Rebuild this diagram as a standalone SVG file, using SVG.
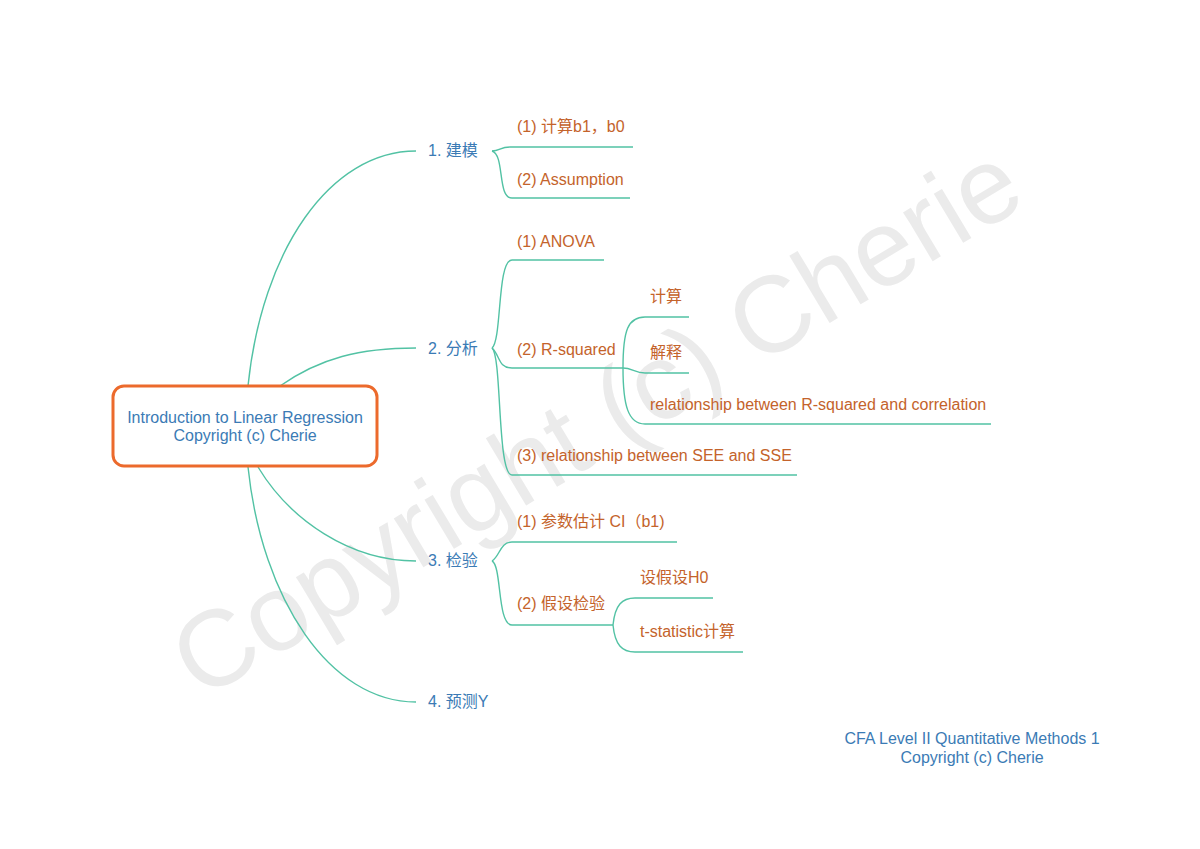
<svg xmlns="http://www.w3.org/2000/svg" width="1200" height="849" viewBox="0 0 1200 849">
<style>
text{font-family:"Liberation Sans","Noto Sans CJK SC",sans-serif;font-size:16px}
.b{fill:#3b7bb5}
.o{fill:#c4632b}
.wm{fill:#ebebeb;font-size:108px}
.c path{fill:none;stroke:#52c2a4;stroke-width:1.4}
</style>
<rect width="1200" height="849" fill="#fff"/>
<text class="wm" transform="translate(615,452) rotate(-31)" text-anchor="middle">Copyright (c) Cherie</text>
<g class="c" id="connectors">
<path d="M248,386 C262,250 330,151 416,151"/>
<path d="M280,386 C320,358 360,348 416,348"/>
<path d="M258,467 C290,520 350,561 416,561"/>
<path d="M248,467 C262,600 330,702 416,702"/>
<path d="M492,151 C500,151 500,147 510,147 H633"/>
<path d="M492,151 C505,155 497,198 512,198 H630"/>
<path d="M492,348 C502,340 497,260 512,260 H604"/>
<path d="M492,348 C500,355 498,368 512,368 H623"/>
<path d="M492,348 C502,356 497,475 512,475 H797"/>
<path d="M623,368 C623,330 628,317 645,317 H689"/>
<path d="M623,368 C632,368 635,373 645,373 H689"/>
<path d="M623,368 C623,405 628,424 645,424 H991"/>
<path d="M492,561 C500,556 500,542 512,542 H677"/>
<path d="M492,561 C502,566 497,625 512,625 H613"/>
<path d="M613,625 C615,605 622,598 635,598 H713"/>
<path d="M613,625 C615,645 622,652 635,652 H743"/>
</g>
<g id="root">
<rect x="113" y="386" width="264" height="80" rx="11" fill="#fff" stroke="#ec6a2c" stroke-width="3"/>
<text class="b" x="245" y="423" text-anchor="middle">Introduction to Linear Regression</text>
<text class="b" x="245" y="441" text-anchor="middle">Copyright (c) Cherie</text>
</g>
<g id="t1"><text class="b" x="428" y="156">1. 建模</text></g>
<g id="t1a"><text class="o" x="517" y="132">(1) 计算b1，b0</text></g>
<g id="t1b"><text class="o" x="517" y="185">(2) Assumption</text></g>
<g id="t2"><text class="b" x="428" y="354">2. 分析</text></g>
<g id="t2a"><text class="o" x="517" y="247">(1) ANOVA</text></g>
<g id="t2b"><text class="o" x="517" y="355">(2) R-squared</text></g>
<g id="t2b1"><text class="o" x="650" y="302">计算</text></g>
<g id="t2b2"><text class="o" x="650" y="358">解释</text></g>
<g id="t2b3"><text class="o" x="650" y="410">relationship between R-squared and correlation</text></g>
<g id="t2c"><text class="o" x="517" y="461">(3) relationship between SEE and SSE</text></g>
<g id="t3"><text class="b" x="428" y="566">3. 检验</text></g>
<g id="t3a"><text class="o" x="517" y="527">(1) 参数估计 CI（b1)</text></g>
<g id="t3b"><text class="o" x="517" y="609">(2) 假设检验</text></g>
<g id="t3b1"><text class="o" x="640" y="583">设假设H0</text></g>
<g id="t3b2"><text class="o" x="640" y="637">t-statistic计算</text></g>
<g id="t4"><text class="b" x="428" y="707">4. 预测Y</text></g>
<g id="footer">
<text class="b" x="972" y="744" text-anchor="middle">CFA Level II Quantitative Methods 1</text>
<text class="b" x="972" y="763" text-anchor="middle">Copyright (c) Cherie</text>
</g>
</svg>
